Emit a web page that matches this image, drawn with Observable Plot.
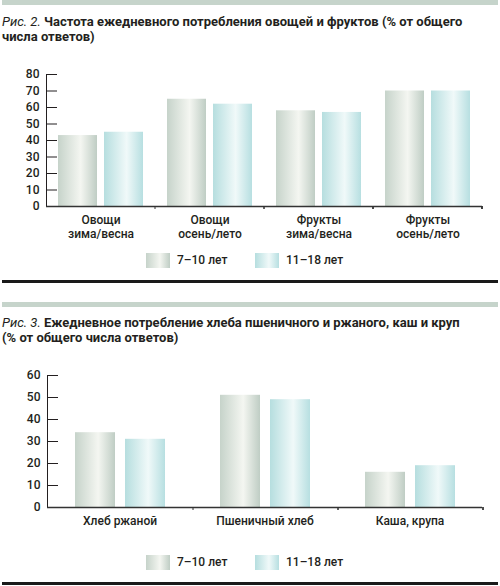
<!DOCTYPE html>
<html><head><meta charset="utf-8">
<script src="https://cdn.jsdelivr.net/npm/d3@7"></script>
<script src="https://cdn.jsdelivr.net/npm/@observablehq/plot@0.6"></script>
<style>
html,body{margin:0;padding:0;background:#fff;}
body{width:500px;height:586px;position:relative;overflow:hidden;font-family:Roboto,"Noto Sans",sans-serif;color:#231f20;}
.strip{position:absolute;left:2px;width:496px;height:5px;background:#c6d4cb;}
.rule{position:absolute;left:2px;width:496px;height:3px;background:#1a1a1a;}
.title{position:absolute;left:2px;font-size:13px;line-height:15px;font-weight:700;white-space:nowrap;}
.title i{font-weight:400;}
.chart{position:absolute;left:0;}
.legend{position:absolute;left:0;height:15px;width:500px;font-size:12px;font-weight:500;}
.sw{position:absolute;width:24px;height:15px;top:0}
.lt{position:absolute;top:0;line-height:15px}
</style></head><body>
<div class="strip" style="top:0"></div>
<div class="title" style="top:14px"><i>Рис. 2.</i> Частота ежедневного потребления овощей и фруктов (% от общего<br>числа ответов)</div>
<div class="chart" id="c1" style="top:46px"></div>
<div class="legend" id="l1" style="top:253px"></div>
<div class="rule" style="top:280px"></div>

<div class="strip" style="top:302px"></div>
<div class="title" style="top:315px"><i>Рис. 3.</i> Ежедневное потребление хлеба пшеничного и ржаного, каш и круп<br>(% от общего числа ответов)</div>
<div class="chart" id="c2" style="top:350px"></div>
<div class="legend" id="l2" style="top:555px"></div>
<div class="rule" style="top:582px"></div>

<script>
const ageGroups = ["7–10 лет", "11–18 лет"];

const fig2Categories = ["Овощи\nзима/весна", "Овощи\nосень/лето", "Фрукты\nзима/весна", "Фрукты\nосень/лето"];
const fig2Young = [43, 65, 58, 70];
const fig2Old = [45, 62, 57, 70];
const fig2Ticks = [0, 10, 20, 30, 40, 50, 60, 70, 80];

const fig3Categories = ["Хлеб ржаной", "Пшеничный хлеб", "Каша, крупа"];
const fig3Young = [34, 51, 16];
const fig3Old = [31, 49, 19];
const fig3Ticks = [0, 10, 20, 30, 40, 50, 60];

const gradStops = [
  [["0%", "#c6d3ca"], ["58%", "#f4f6f1"], ["100%", "#bfcdc4"]],
  [["0%", "#b6dedf"], ["58%", "#f0f9f9"], ["100%", "#b7dfe1"]]
];

function chart({categories, young, old, ticks, height, marginTop, marginBottom, paddingInner, paddingOuter, tickPad, id}) {
  const rows = categories.flatMap((c, i) => [
    {category: c, group: ageGroups[0], value: young[i]},
    {category: c, group: ageGroups[1], value: old[i]}
  ]);
  const defs = () => {
    const g = d3.create("svg:g");
    const d = g.append("defs");
    gradStops.forEach((stops, k) => {
      const lg = d.append("linearGradient").attr("id", id + k).attr("x1", "0").attr("x2", "1").attr("y1", "0").attr("y2", "0");
      stops.forEach(([o, c]) => lg.append("stop").attr("offset", o).attr("stop-color", c));
    });
    return g.node();
  };
  const boundaryTicks = (index, scales) => {
    const g = d3.create("svg:g").attr("stroke", "#333").attr("stroke-width", 1);
    const fx = scales.fx;
    const bw = typeof fx.bandwidth === "function" ? fx.bandwidth() : fx.bandwidth;
    const y0 = scales.y(0);
    for (const c of categories) {
      const xr = fx(c) + bw;
      g.append("line").attr("x1", xr).attr("x2", xr).attr("y1", y0).attr("y2", y0 + 3);
    }
    return g.node();
  };
  return Plot.plot({
    width: 500, height, marginTop, marginBottom, marginLeft: 46, marginRight: 18,
    style: {fontFamily: "Roboto, 'Noto Sans', sans-serif", fontSize: "12px", fontWeight: 500, color: "#231f20", background: "transparent", overflow: "visible"},
    fx: {domain: categories, padding: 0, label: null},
    x: {domain: ageGroups, paddingInner, paddingOuter, axis: null},
    y: {domain: [0, ticks[ticks.length - 1]], ticks, tickSize: -11, tickPadding: 18, line: true, label: null},
    color: {domain: ageGroups, range: [`url(#${id}0)`, `url(#${id}1)`]},
    marks: [
      defs,
      Plot.barY(rows, {fx: "category", x: "group", y: "value", fill: "group"}),
      Plot.ruleY([0], {stroke: "#333", strokeWidth: 1.3}),
      Plot.axisFx({anchor: "bottom", tickSize: 0, tickPadding: tickPad, lineHeight: 1.15, label: null}),
      boundaryTicks
    ]
  });
}

function legend(el) {
  const pos = [[146, 177], [255, 286]];
  ageGroups.forEach((g, k) => {
    const s = gradStops[k].map(([o, c]) => `${c} ${o}`).join(",");
    const sw = document.createElement("div");
    sw.className = "sw"; sw.style.left = pos[k][0] + "px";
    sw.style.background = `linear-gradient(to right, ${s})`;
    const t = document.createElement("div");
    t.className = "lt"; t.style.left = pos[k][1] + "px"; t.textContent = g;
    el.append(sw, t);
  });
}

document.getElementById("c1").append(chart({
  categories: fig2Categories, young: fig2Young, old: fig2Old, ticks: fig2Ticks,
  height: 200, marginTop: 28, marginBottom: 40, paddingInner: 0.16, paddingOuter: 0.25, tickPad: 8, id: "g2_"
}));
document.getElementById("c2").append(chart({
  categories: fig3Categories, young: fig3Young, old: fig3Old, ticks: fig3Ticks,
  height: 182, marginTop: 25, marginBottom: 25, paddingInner: 0.21, paddingOuter: 0.53, tickPad: 8, id: "g3_"
}));
legend(document.getElementById("l1"));
legend(document.getElementById("l2"));
</script>
</body></html>
